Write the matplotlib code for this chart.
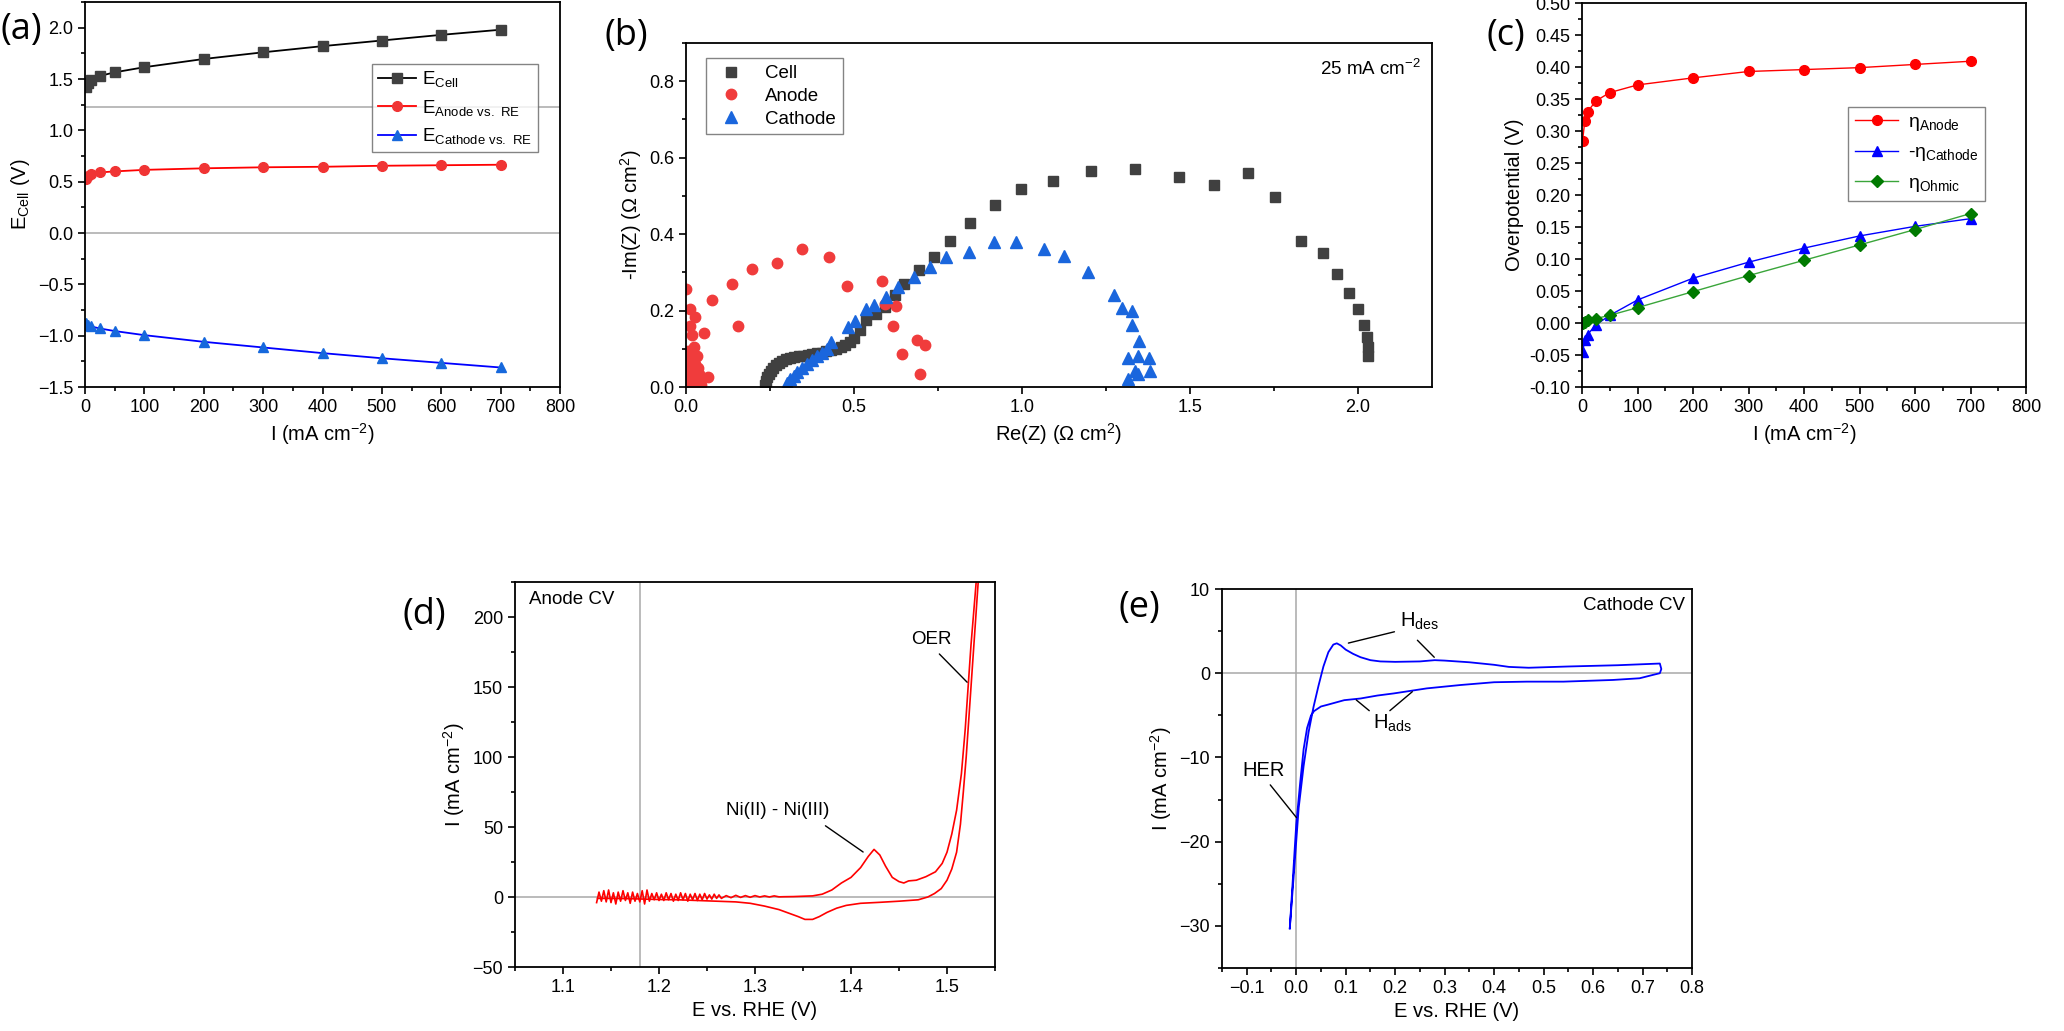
import numpy as np
import matplotlib
matplotlib.use('Agg')
import matplotlib.pyplot as plt
from matplotlib.ticker import MultipleLocator, FormatStrFormatter

plt.rcParams['font.family'] = ['Liberation Sans', 'DejaVu Sans']
plt.rcParams['mathtext.default'] = 'regular'
plt.rcParams['axes.linewidth'] = 1.3
plt.rcParams['xtick.direction'] = 'out'
plt.rcParams['ytick.direction'] = 'out'

#-- data ----------------------------------------------------------------------

# (a) polarisation, potentials vs current density
cur = [1, 5, 10, 25, 50, 100, 200, 300, 400, 500, 600, 700]
e_cell = [1.42, 1.46, 1.49, 1.53, 1.565, 1.615, 1.695, 1.76, 1.82, 1.875, 1.93, 1.98]
e_anode = [0.53, 0.56, 0.575, 0.59, 0.60, 0.615, 0.63, 0.64, 0.645, 0.655, 0.66, 0.665]
e_cathode = [-0.88, -0.90, -0.91, -0.93, -0.955, -0.995, -1.06, -1.115, -1.17,
             -1.22, -1.265, -1.31]

# (b) impedance at 25 mA cm-2
cell_re = [0.235, 0.238, 0.242, 0.247, 0.253, 0.26, 0.268, 0.277, 0.287, 0.298,
           0.31, 0.322, 0.335, 0.348, 0.362, 0.376, 0.39, 0.404, 0.418, 0.432,
           0.446, 0.46, 0.474, 0.487, 0.5, 0.517, 0.536, 0.565, 0.592, 0.622,
           0.648, 0.693, 0.737, 0.787, 0.845, 0.919, 0.997, 1.093, 1.204, 1.336,
           1.468, 1.571, 1.673, 1.754, 1.831, 1.897, 1.938, 1.972, 1.999, 2.018,
           2.028, 2.03, 2.031]
cell_im = [0.005, 0.015, 0.025, 0.034, 0.042, 0.05, 0.057, 0.063, 0.068, 0.072,
           0.075, 0.078, 0.08, 0.082, 0.084, 0.086, 0.088, 0.09, 0.093, 0.096,
           0.1, 0.105, 0.11, 0.118, 0.128, 0.148, 0.175, 0.192, 0.21, 0.242,
           0.27, 0.305, 0.34, 0.383, 0.428, 0.475, 0.517, 0.54, 0.566, 0.571,
           0.549, 0.529, 0.559, 0.498, 0.382, 0.351, 0.296, 0.247, 0.203, 0.162,
           0.13, 0.105, 0.08]

anode_re = [0.0, 0.013, 0.027, 0.012, 0.018, 0.025, 0.005, 0.032, 0.01, 0.02,
            0.028, 0.035, 0.004, 0.015, 0.025, 0.038, 0.008, 0.018, 0.03, 0.042,
            0.005, 0.012, 0.022, 0.033, 0.045, 0.053, 0.065, 0.078, 0.136, 0.156,
            0.195, 0.272, 0.344, 0.426, 0.479, 0.582, 0.592, 0.626, 0.616, 0.642,
            0.686, 0.712, 0.695]
anode_im = [0.257, 0.205, 0.182, 0.16, 0.137, 0.105, 0.095, 0.08, 0.075, 0.07,
            0.06, 0.05, 0.055, 0.045, 0.04, 0.035, 0.03, 0.028, 0.022, 0.018,
            0.012, 0.01, 0.008, 0.006, 0.004, 0.142, 0.027, 0.227, 0.27, 0.16,
            0.308, 0.325, 0.362, 0.339, 0.265, 0.278, 0.218, 0.213, 0.16, 0.087,
            0.122, 0.11, 0.035]

cath_re = [0.3, 0.31, 0.32, 0.33, 0.345, 0.36, 0.375, 0.39, 0.405, 0.419,
           0.432, 0.483, 0.504, 0.536, 0.56, 0.595, 0.63, 0.679, 0.725, 0.775,
           0.842, 0.917, 0.981, 1.066, 1.125, 1.197, 1.273, 1.298, 1.326, 1.327,
           1.349, 1.314, 1.345, 1.377, 1.336, 1.344, 1.381, 1.316]
cath_im = [0.01, 0.02, 0.03, 0.04, 0.05, 0.06, 0.07, 0.08, 0.09, 0.1,
           0.118, 0.158, 0.173, 0.205, 0.215, 0.235, 0.262, 0.288, 0.313, 0.34,
           0.352, 0.38, 0.38, 0.36, 0.342, 0.302, 0.242, 0.207, 0.2, 0.162,
           0.12, 0.077, 0.08, 0.077, 0.042, 0.035, 0.042, 0.02]

# (c) overpotentials
eta_anode = [0.285, 0.315, 0.33, 0.347, 0.36, 0.372, 0.383, 0.393, 0.396, 0.399,
             0.404, 0.409]
eta_cathode = [-0.045, -0.027, -0.018, -0.003, 0.012, 0.036, 0.07, 0.095, 0.117,
               0.136, 0.151, 0.163]
eta_ohmic = [0.0, 0.002, 0.004, 0.007, 0.012, 0.024, 0.049, 0.074, 0.098, 0.122,
             0.146, 0.171]

# (d) anode CV: noisy start of forward scan, forward scan, reverse scan
noise_e = [1.135, 1.1375, 1.140, 1.1425, 1.145, 1.1475, 1.150, 1.1525, 1.155,
           1.1575, 1.160, 1.1625, 1.165, 1.1675, 1.170, 1.1725, 1.175, 1.1775,
           1.180, 1.1825, 1.185, 1.1875, 1.190, 1.1925, 1.195, 1.1975, 1.200,
           1.2025, 1.205, 1.2075, 1.210, 1.2125, 1.215, 1.2175, 1.220, 1.2225,
           1.225, 1.2275, 1.230, 1.2325, 1.235, 1.2375, 1.240, 1.2425, 1.245,
           1.2475, 1.250, 1.2525, 1.255, 1.2575, 1.260, 1.2625, 1.265,
           1.27, 1.275, 1.28, 1.285, 1.29, 1.295, 1.30, 1.305, 1.31, 1.315,
           1.32, 1.325, 1.33]
noise_i = [-4, 3.5, -3, 4.5, -3.5, 5, -4, 3, -5, 3.5,
           -3, 4.5, -2.5, 3, -4.5, 3.5, -3, 2.5, -3.5, 4.5,
           -5, 5, -3, 2.5, -2, 3, -2.5, 2, -2.5, 3,
           -2, 2.5, -3, 2, -2.5, 3, -2, 2.5, -3, 2,
           -2, 2.5, -2.5, 2, -2, 2.5, -1.5, 1.5, -1.5, 2,
           -1, 1.5, -1,
           1, -0.5, 1.2, -0.3, 1, -0.2, 1, 0, 0.8, 0, 0.8, 0.1, 0.2]
fwd_e = [1.34, 1.36, 1.37, 1.38, 1.39, 1.40, 1.41, 1.418, 1.424, 1.43, 1.436,
         1.443, 1.45, 1.455, 1.46, 1.468, 1.478, 1.488, 1.495, 1.50, 1.505,
         1.51, 1.515, 1.519, 1.522, 1.525, 1.528, 1.531]
fwd_i = [0.3, 0.8, 2, 5, 10, 14, 21, 29, 34, 30, 22, 14, 11, 10, 11.5, 12,
         14.5, 18, 24, 32, 45, 62, 88, 120, 150, 180, 205, 230]
rev_e = [1.533, 1.529, 1.526, 1.523, 1.52, 1.517, 1.514, 1.51, 1.505, 1.50,
         1.494, 1.487, 1.48, 1.47, 1.45, 1.43, 1.41, 1.395, 1.385, 1.375,
         1.367, 1.36, 1.352, 1.345, 1.337, 1.325, 1.31, 1.295, 1.28, 1.26,
         1.24, 1.22, 1.2, 1.17, 1.15, 1.136]
rev_i = [230, 190, 160, 130, 100, 75, 52, 32, 20, 12, 6, 2.5, 0, -2, -3,
         -3.8, -4.5, -6, -8, -11, -14, -16, -16, -14, -12, -9, -6.5, -4.5,
         -3.5, -3, -2.5, -2, -1.8, -1.2, -1, -1]

# (e) cathode CV, one closed loop
cv_e = [-0.013, -0.005, 0.005, 0.015, 0.025, 0.035, 0.045, 0.055, 0.065, 0.075,
        0.082, 0.09, 0.1, 0.115, 0.13, 0.15, 0.17, 0.2, 0.25, 0.28, 0.3, 0.35,
        0.4, 0.43, 0.47, 0.55, 0.65, 0.735, 0.738, 0.735, 0.721, 0.694, 0.64,
        0.54, 0.466, 0.4, 0.332, 0.264, 0.197, 0.164, 0.13, 0.097, 0.063, 0.05,
        0.036, 0.03, 0.022, 0.015, 0.008, 0.0, -0.013]
cv_i = [-30.3, -24, -16, -11, -7, -4, -1.5, 0.8, 2.5, 3.4,
        3.55, 3.3, 2.8, 2.3, 1.9, 1.55, 1.4, 1.35, 1.4, 1.55, 1.5, 1.3,
        1.0, 0.75, 0.65, 0.8, 0.95, 1.15, 0.5, 0.0, -0.2, -0.6, -0.8,
        -1.0, -1.0, -1.07, -1.4, -1.8, -2.4, -2.65, -3.0, -3.2, -3.75, -3.95,
        -4.5, -5.0, -6.5, -9, -13, -18, -30.3]

#-- figure --------------------------------------------------------------------

W, H = 2064, 1031
fig = plt.figure(figsize=(W / 100, H / 100), dpi=100)


def add_ax(left, right, top, bottom):
    '''axes from pixel edges of the full figure'''
    return fig.add_axes([left / W, 1 - bottom / H, (right - left) / W,
                         (bottom - top) / H])


def style(ax, xmaj, xmin, ymaj, ymin):
    ax.xaxis.set_major_locator(MultipleLocator(xmaj))
    ax.xaxis.set_minor_locator(MultipleLocator(xmin))
    ax.yaxis.set_major_locator(MultipleLocator(ymaj))
    ax.yaxis.set_minor_locator(MultipleLocator(ymin))
    ax.tick_params(which='major', length=5, width=1.2, labelsize=13)
    ax.tick_params(which='minor', length=3, width=1.2)
    ax.tick_params(top=False, right=False, which='both')


def panel_label(x, y, s):
    fig.text(x / W, 1 - y / H, s, fontsize=26, va='center', ha='left',
             family=['Open Sans', 'DejaVu Sans'])


def leader(ax, p0, p1):
    ax.annotate('', xy=p1, xytext=p0,
                arrowprops=dict(arrowstyle='-', color='black', lw=1))


GREY = '#a8a8a8'
TXT = 14.5

#-- (a) -----------------------------------------------------------------------

ax = add_ax(85, 560, 2, 387)
ax.axhline(0, color=GREY, lw=1.1, zorder=0)
ax.axhline(1.23, color=GREY, lw=1.1, zorder=0)
ax.plot(cur, e_cell, '-s', color='black', mfc='#404040', mec='#404040', ms=6.5,
        lw=1.3, label=r'E$_{Cell}$')
ax.plot(cur, e_anode, '-o', color='#ff0000', mfc='#f03434', mec='#f03434', ms=7,
        lw=1.3, label=r'E$_{Anode\ vs.\ RE}$')
ax.plot(cur, e_cathode, '-^', color='#0000ff', mfc='#1668dc', mec='#1668dc',
        ms=7.5, lw=1.3, label=r'E$_{Cathode\ vs.\ RE}$')
ax.set_xlim(0, 800)
ax.set_ylim(-1.5, 2.25)
style(ax, 100, 50, 0.5, 0.25)
ax.set_xlabel(r'I (mA cm$^{-2}$)', fontsize=TXT)
ax.set_ylabel(r'E$_{Cell}$ (V)', fontsize=TXT, labelpad=4)
leg = ax.legend(loc='upper left', bbox_to_anchor=(0.605, 0.84), fontsize=13.5,
                fancybox=False, edgecolor='#666666', handlelength=2.0,
                borderpad=0.3, labelspacing=0.45, handletextpad=0.35,
                borderaxespad=0)
leg.get_frame().set_linewidth(1.0)
panel_label(0, 30, '(a)')

#-- (b) -----------------------------------------------------------------------

ax = add_ax(686, 1432, 43, 387)
ax.plot(cell_re, cell_im, 's', color='#404040', ms=7, ls='none', label='Cell')
ax.plot(anode_re, anode_im, 'o', color='#f03c3c', ms=7.5, ls='none',
        label='Anode')
ax.plot(cath_re, cath_im, '^', color='#1a66dd', ms=8.5, ls='none',
        label='Cathode')
ax.set_xlim(0, 2.22)
ax.set_ylim(0, 0.9)
style(ax, 0.5, 0.25, 0.2, 0.1)
ax.set_xlabel(r'Re(Z) ($\Omega$ cm$^2$)', fontsize=TXT)
ax.set_ylabel(r'-Im(Z) ($\Omega$ cm$^2$)', fontsize=TXT)
ax.text(0.985, 0.925, r'25 mA cm$^{-2}$', transform=ax.transAxes, ha='right',
        va='center', fontsize=13.5)
leg = ax.legend(loc='upper left', bbox_to_anchor=(0.027, 0.955), fontsize=13.5,
                fancybox=False, edgecolor='#666666', borderpad=0.35,
                labelspacing=0.3, handletextpad=0.8, borderaxespad=0)
leg.get_frame().set_linewidth(1.0)
panel_label(605, 36, '(b)')

#-- (c) -----------------------------------------------------------------------

ax = add_ax(1582, 2026, 3, 387)
ax.axhline(0, color=GREY, lw=1.1, zorder=0)
ax.plot(cur, eta_anode, '-o', color='#ff0000', ms=7, lw=1.0,
        label=r'$\eta_{Anode}$')
ax.plot(cur, eta_cathode, '-^', color='#0000ff', ms=7.5, lw=1.0,
        label=r'-$\eta_{Cathode}$')
ax.plot(cur, eta_ohmic, '-D', color='#3aa53a', mfc='#007a00', mec='#007a00',
        ms=6, lw=1.0, label=r'$\eta_{Ohmic}$')
ax.set_xlim(0, 800)
ax.set_ylim(-0.1, 0.5)
style(ax, 100, 50, 0.05, 0.025)
ax.yaxis.set_major_formatter(FormatStrFormatter('%.2f'))
ax.set_xlabel(r'I (mA cm$^{-2}$)', fontsize=TXT)
ax.set_ylabel('Overpotential (V)', fontsize=TXT)
leg = ax.legend(loc='upper left', bbox_to_anchor=(0.60, 0.73), fontsize=14,
                fancybox=False, edgecolor='#666666', handlelength=2.2,
                borderpad=0.35, labelspacing=0.55, handletextpad=0.5,
                borderaxespad=0)
leg.get_frame().set_linewidth(1.0)
panel_label(1486, 36, '(c)')

#-- (d) -----------------------------------------------------------------------

ax = add_ax(515, 995, 582, 967)
ax.axhline(0, color=GREY, lw=1.1, zorder=0)
ax.axvline(1.18, color=GREY, lw=1.1, zorder=0)
ax.plot(noise_e + fwd_e, noise_i + fwd_i, color='#ff0000', lw=1.2)
ax.plot(rev_e, rev_i, color='#ff0000', lw=1.2)
ax.set_xlim(1.05, 1.55)
ax.set_ylim(-50, 225)
style(ax, 0.1, 0.05, 50, 25)
ax.set_xlabel('E vs. RHE (V)', fontsize=TXT)
ax.set_ylabel(r'I (mA cm$^{-2}$)', fontsize=TXT)
ax.text(0.03, 0.955, 'Anode CV', transform=ax.transAxes, ha='left', va='center',
        fontsize=13.5)
ax.text(1.463, 184, 'OER', ha='left', va='center', fontsize=13.5)
leader(ax, (1.49, 175), (1.523, 152))
ax.text(1.27, 62, 'Ni(II) - Ni(III)', ha='left', va='center', fontsize=13.5)
leader(ax, (1.371, 52), (1.415, 31))
panel_label(403, 615, '(d)')

#-- (e) -----------------------------------------------------------------------

ax = add_ax(1222, 1692, 589, 968)
ax.axhline(0, color=GREY, lw=1.1, zorder=0)
ax.axvline(0, color=GREY, lw=1.1, zorder=0)
ax.plot(cv_e, cv_i, color='#0000ff', lw=1.3)
ax.set_xlim(-0.15, 0.8)
ax.set_ylim(-35, 10)
style(ax, 0.1, 0.05, 10, 5)
ax.set_xlabel('E vs. RHE (V)', fontsize=TXT)
ax.set_ylabel(r'I (mA cm$^{-2}$)', fontsize=TXT)
ax.text(0.785, 8.0, 'Cathode CV', ha='right', va='center', fontsize=13.5)
ax.text(0.21, 6.1, r'H$_{des}$', ha='left', va='center', fontsize=14.5)
leader(ax, (0.204, 5.0), (0.1, 3.5))
leader(ax, (0.241, 4.15), (0.283, 1.66))
ax.text(0.155, -5.9, r'H$_{ads}$', ha='left', va='center', fontsize=14.5)
leader(ax, (0.152, -4.66), (0.117, -2.96))
leader(ax, (0.185, -4.66), (0.239, -1.98))
ax.text(-0.108, -11.5, 'HER', ha='left', va='center', fontsize=14.5)
leader(ax, (-0.056, -13.0), (0.004, -17.4))
panel_label(1118, 608, '(e)')

fig.savefig('out.png', dpi=100)
